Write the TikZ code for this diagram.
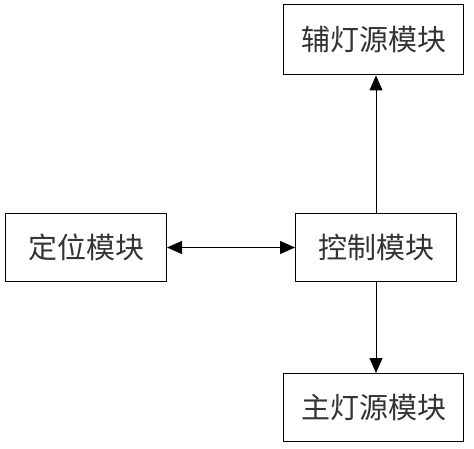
\documentclass[tikz,border=0pt]{standalone}
\usepackage{fontspec}
\newfontfamily\cjk{Noto Sans CJK SC}
\usetikzlibrary{arrows.meta}
\begin{document}
\begin{tikzpicture}[x=1pt,y=1pt,
  box/.style={draw, line width=1pt, inner sep=0pt, font=\cjk\fontsize{29}{34}\selectfont, text=black!80},
  conn/.style={line width=1pt, -{Triangle[length=15pt,width=13pt]}}]
\useasboundingbox (0,0) rectangle (474,448);
\node[box, minimum width=180pt, minimum height=70pt] (aux) at (373.5,408) {辅灯源模块};
\node[box, minimum width=161pt, minimum height=68pt] (pos) at (86,200.5) {定位模块};
\node[box, minimum width=161pt, minimum height=68pt] (ctl) at (376,200.5) {控制模块};
\node[box, minimum width=180pt, minimum height=68pt] (main) at (373.5,40.5) {主灯源模块};
\draw[conn] (ctl.north) -- (ctl.north |- aux.south);
\draw[conn] (ctl.south) -- (ctl.south |- main.north);
\draw[conn, {Triangle[length=15pt,width=13pt]}-{Triangle[length=15pt,width=13pt]}] (pos.east) -- (ctl.west);
\end{tikzpicture}
\end{document}
